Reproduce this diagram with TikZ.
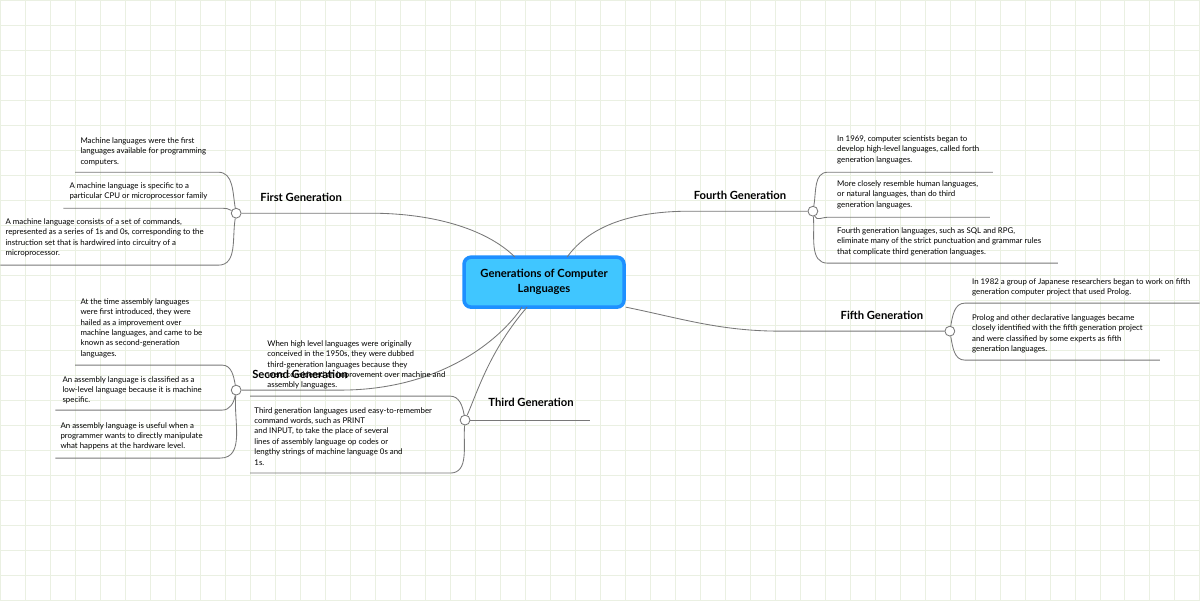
\documentclass[tikz,border=0pt]{standalone}
\usepackage{fontspec}
\setmainfont{Lato}
\usepackage{tikz}
\definecolor{rootblue}{RGB}{64,198,255}
\definecolor{rootedge}{RGB}{30,144,255}
\definecolor{gridgreen}{RGB}{234,240,226}
\definecolor{linegray}{RGB}{120,120,120}

\tikzset{
    conn/.style={draw=linegray, line width=0.6pt},
    knot/.style={circle, draw=linegray, fill=white, line width=0.6pt, inner sep=0pt, minimum size=7pt},
    leaf/.style={anchor=north west, align=left, inner sep=0pt, font=\fontsize{5.6}{7.4}\selectfont},
    topic/.style={font=\fontsize{8}{9.5}\selectfont\bfseries, inner sep=0pt}
}

\begin{document}
\begin{tikzpicture}[x=0.025cm, y=-0.025cm]
    \fill[white] (0,0) rectangle (1200,600);
    \foreach \gx in {0,25,...,1200}
        \draw[gridgreen, line width=0.4pt] (\gx,0) -- (\gx,600);
    \foreach \gy in {0,25,...,600}
        \draw[gridgreen, line width=0.4pt] (0,\gy) -- (1200,\gy);
    \useasboundingbox (0,0) rectangle (1200,600);

    % root
    \node[draw=rootedge, fill=rootblue, line width=2.5pt, rounded corners=5pt, minimum width=4cm, minimum height=1.25cm, align=center, font=\fontsize{8}{10.5}\selectfont\bfseries] (root) at (544,282) {Generations of Computer\\Languages};

    % first generation
    \node[knot] (first) at (236,213) {};
    \node[topic] at (301,197) {First Generation};
    \draw[conn] (first) -- (370,213) .. controls (440,213) and (490,232) .. (515,257);
    \node[leaf] at (80,137) {Machine languages were the first\\languages available for programming\\computers.};
    \node[leaf] at (69,182) {A machine language is specific to a\\particular CPU or microprocessor family};
    \node[leaf] at (5,218) {A machine language consists of a set of commands,\\represented as a series of 1s and 0s, corresponding to the\\instruction set that is hardwired into circuitry of a\\microprocessor.};
    \coordinate (f1) at (218,172);
    \coordinate (f2) at (222,208);
    \coordinate (f3) at (218,265);
    \draw[conn] (first) to[out=100, in=0] (f1) -- (75,172);
    \draw[conn] (first) to[out=150, in=0] (f2) -- (63,208);
    \draw[conn] (first) to[out=260, in=0] (f3) -- (0,265);

    % second generation
    \node[knot] (second) at (236,390) {};
    \draw[conn] (second) -- (340,390) .. controls (440,390) and (500,340) .. (522,307);
    \node[leaf] at (80,298) {At the time assembly languages\\were first introduced, they were\\hailed as a improvement over\\machine languages, and came to be\\known as second-generation\\languages.};
    \node[leaf] at (62,376) {An assembly language is classified as a\\low-level language because it is machine\\specific.};
    \node[leaf] at (60,422) {An assembly language is useful when a\\programmer wants to directly manipulate\\what happens at the hardware level.};
    \coordinate (s1) at (222,365);
    \coordinate (s2) at (222,410);
    \coordinate (s3) at (220,458);
    \draw[conn] (second) to[out=100, in=0] (s1) -- (75,365);
    \draw[conn] (second) to[out=260, in=0] (s2) -- (55,410);
    \draw[conn] (second) to[out=265, in=0] (s3) -- (55,458);

    % third generation
    \node[knot] (third) at (465,420) {};
    \draw[conn] (third) -- (590,420);
    \draw[conn] (third) .. controls (478,390) and (490,350) .. (527,307);
    \node[leaf] at (267,340) {When high level languages were originally\\conceived in the 1950s, they were dubbed\\third-generation languages because they\\were considered an improvement over machine and\\assembly languages.};
    \node[leaf] at (254,407) {Third generation languages used easy-to-remember\\command words, such as PRINT\\and INPUT, to take the place of several\\lines of assembly language op codes or\\lengthy strings of machine language 0s and\\1s.};
    \coordinate (t1) at (450,396);
    \coordinate (t2) at (450,473);
    \draw[conn] (third) to[out=100, in=0] (t1) -- (250,396);
    \draw[conn] (third) to[out=265, in=0] (t2) -- (250,473);
    \node[topic] at (300,374) {Second Generation};
    \node[topic] at (531,402) {Third Generation};

    % fourth generation
    \node[knot] (fourth) at (813,211) {};
    \node[topic] at (740,195) {Fourth Generation};
    \draw[conn] (fourth) -- (690,211) .. controls (620,211) and (585,232) .. (567,257);
    \node[leaf] at (837,135) {In 1969, computer scientists began to\\develop high-level languages, called forth\\generation languages.};
    \node[leaf] at (837,180) {More closely resemble human languages,\\or natural languages, than do third\\generation languages.};
    \node[leaf] at (837,227) {Fourth generation languages, such as SQL and RPG,\\eliminate many of the strict punctuation and grammar rules\\that complicate third generation languages.};
    \coordinate (q1) at (828,172);
    \coordinate (q2) at (828,217);
    \coordinate (q3) at (828,263);
    \draw[conn] (fourth) to[out=80, in=180] (q1) -- (993,172);
    \draw[conn] (fourth) to[out=290, in=180] (q2) -- (990,217);
    \draw[conn] (fourth) to[out=275, in=180] (q3) -- (1058,263);

    % fifth generation
    \node[knot] (fifth) at (950,331) {};
    \node[topic] at (882,315) {Fifth Generation};
    \draw[conn] (root.east |- 0,307) .. controls (680,318) and (720,331) .. (780,331) -- (fifth);
    \node[leaf] at (972,278) {In 1982 a group of Japanese researchers began to work on fifth\\generation computer project that used Prolog.};
    \node[leaf] at (972,314) {Prolog and other declarative languages became\\closely identified with the fifth generation project\\and were classified by some experts as fifth\\generation languages.};
    \coordinate (v1) at (965,303);
    \coordinate (v2) at (965,360);
    \draw[conn] (fifth) to[out=80, in=180] (v1) -- (1200,303);
    \draw[conn] (fifth) to[out=280, in=180] (v2) -- (1160,360);
\end{tikzpicture}
\end{document}
